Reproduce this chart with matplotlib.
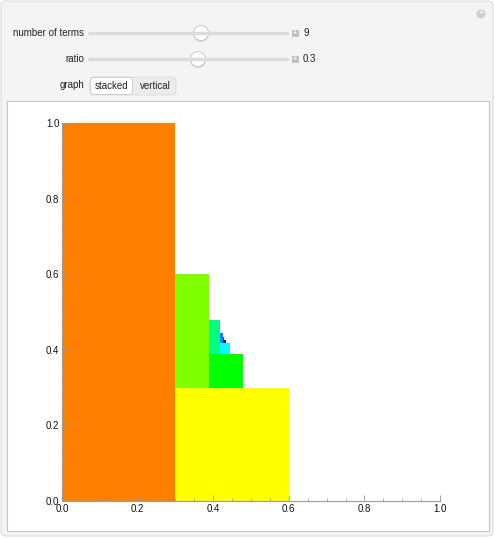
import matplotlib
matplotlib.use("Agg")
import matplotlib.pyplot as plt
from matplotlib.patches import Rectangle, FancyBboxPatch, Circle
from matplotlib.ticker import MultipleLocator, FormatStrFormatter

plt.rcParams['font.family'] = ['Liberation Sans', 'DejaVu Sans']

# stacked rectangles of the geometric series, ratio 0.3, 9 terms
lefts = [0.0, 0.3, 0.3, 0.39, 0.39, 0.417, 0.417, 0.4251, 0.4251]
bottoms = [0.0, 0.0, 0.3, 0.3, 0.39, 0.39, 0.417, 0.417, 0.4251]
widths = [0.3, 0.3, 0.09, 0.09, 0.027, 0.027, 0.0081, 0.0081, 0.00243]
heights = [1.0, 0.3, 0.3, 0.09, 0.09, 0.027, 0.027, 0.0081, 0.0081]
colors = ['#ff8000', '#ffff00', '#80ff00', '#00ff00', '#00ff80',
          '#00ffff', '#0080ff', '#0000ff', '#8000ff']

n_terms = 9
ratio = 0.3

W, H = 494, 538
fig = plt.figure(figsize=(W / 100, H / 100), dpi=100)
fig.patch.set_facecolor('white')

# background panel drawn in pixel coords
bg = fig.add_axes([0, 0, 1, 1])
bg.set_xlim(0, W)
bg.set_ylim(H, 0)
bg.axis('off')
bg.add_patch(FancyBboxPatch((1, 1), W - 2, H - 3, boxstyle="round,pad=0,rounding_size=5",
                            fc='#f4f4f4', ec='#dcdcdc', lw=0.8))
bg.add_patch(Rectangle((6.5, 100.5), 482, 430, fc='white', ec='#c6c6c6', lw=0.8))
bg.add_patch(Circle((481, 14), 4.5, fc='#cfcfcf', ec='none'))
bg.text(481, 14, '+', color='white', fontsize=6, ha='center', va='center', fontweight='bold')

# sliders
for y, label, val, knob in [(33, 'number of terms', str(n_terms), 201),
                            (59, 'ratio', str(ratio), 198)]:
    bg.text(84, y, label, fontsize=7, ha='right', va='center', color='#222222')
    bg.plot([89, 287], [y, y], color='#dcdcdc', lw=2.5, solid_capstyle='round')
    bg.add_patch(Circle((knob, y + 1), 8, fc='#d4d4d4', ec='none'))
    bg.add_patch(Circle((knob, y), 7.5, fc='white', ec='#c4c4c4', lw=0.6))
    bg.add_patch(Rectangle((291.5, y - 3.5), 7, 7, fc='#c0c0c0', ec='none'))
    bg.text(295, y, '+', color='white', fontsize=5, ha='center', va='center', fontweight='bold')
    bg.text(303, y, val, fontsize=7, ha='left', va='center', color='#222222')

# setter bar
bg.text(84, 85, 'graph', fontsize=7, ha='right', va='center', color='#222222')
bg.add_patch(FancyBboxPatch((90, 77), 86, 18, boxstyle="round,pad=0,rounding_size=4",
                            fc='#ececec', ec='#dadada', lw=0.6))
bg.add_patch(FancyBboxPatch((90.5, 77.5), 42, 17, boxstyle="round,pad=0,rounding_size=4",
                            fc='white', ec='#c8c8c8', lw=0.6))
bg.text(111.5, 86, 'stacked', fontsize=7, ha='center', va='center', color='#222222')
bg.text(155, 86, 'vertical', fontsize=7, ha='center', va='center', color='#222222')

# main plot
ax = fig.add_axes([62 / W, 37 / H, 378 / W, 378 / H])
ax.set_facecolor('none')
for x0, y0, w, h, c in zip(lefts, bottoms, widths, heights, colors):
    ax.add_patch(Rectangle((x0, y0), w, h, fc=c, ec='none'))

ax.set_xlim(0, 1)
ax.set_ylim(0, 1)
for s in ['top', 'right']:
    ax.spines[s].set_visible(False)
for s in ['left', 'bottom']:
    ax.spines[s].set_color('#9a9a9a')
    ax.spines[s].set_linewidth(0.8)
for a in [ax.xaxis, ax.yaxis]:
    a.set_major_locator(MultipleLocator(0.2))
    a.set_minor_locator(MultipleLocator(0.05))
    a.set_major_formatter(FormatStrFormatter('%.1f'))
ax.tick_params(which='major', direction='in', length=4, width=0.6, color='#9a9a9a',
               labelsize=7, pad=2, labelcolor='#111111')
ax.tick_params(which='minor', direction='in', length=2, width=0.5, color='#9a9a9a')

fig.savefig('out.png', dpi=100)
